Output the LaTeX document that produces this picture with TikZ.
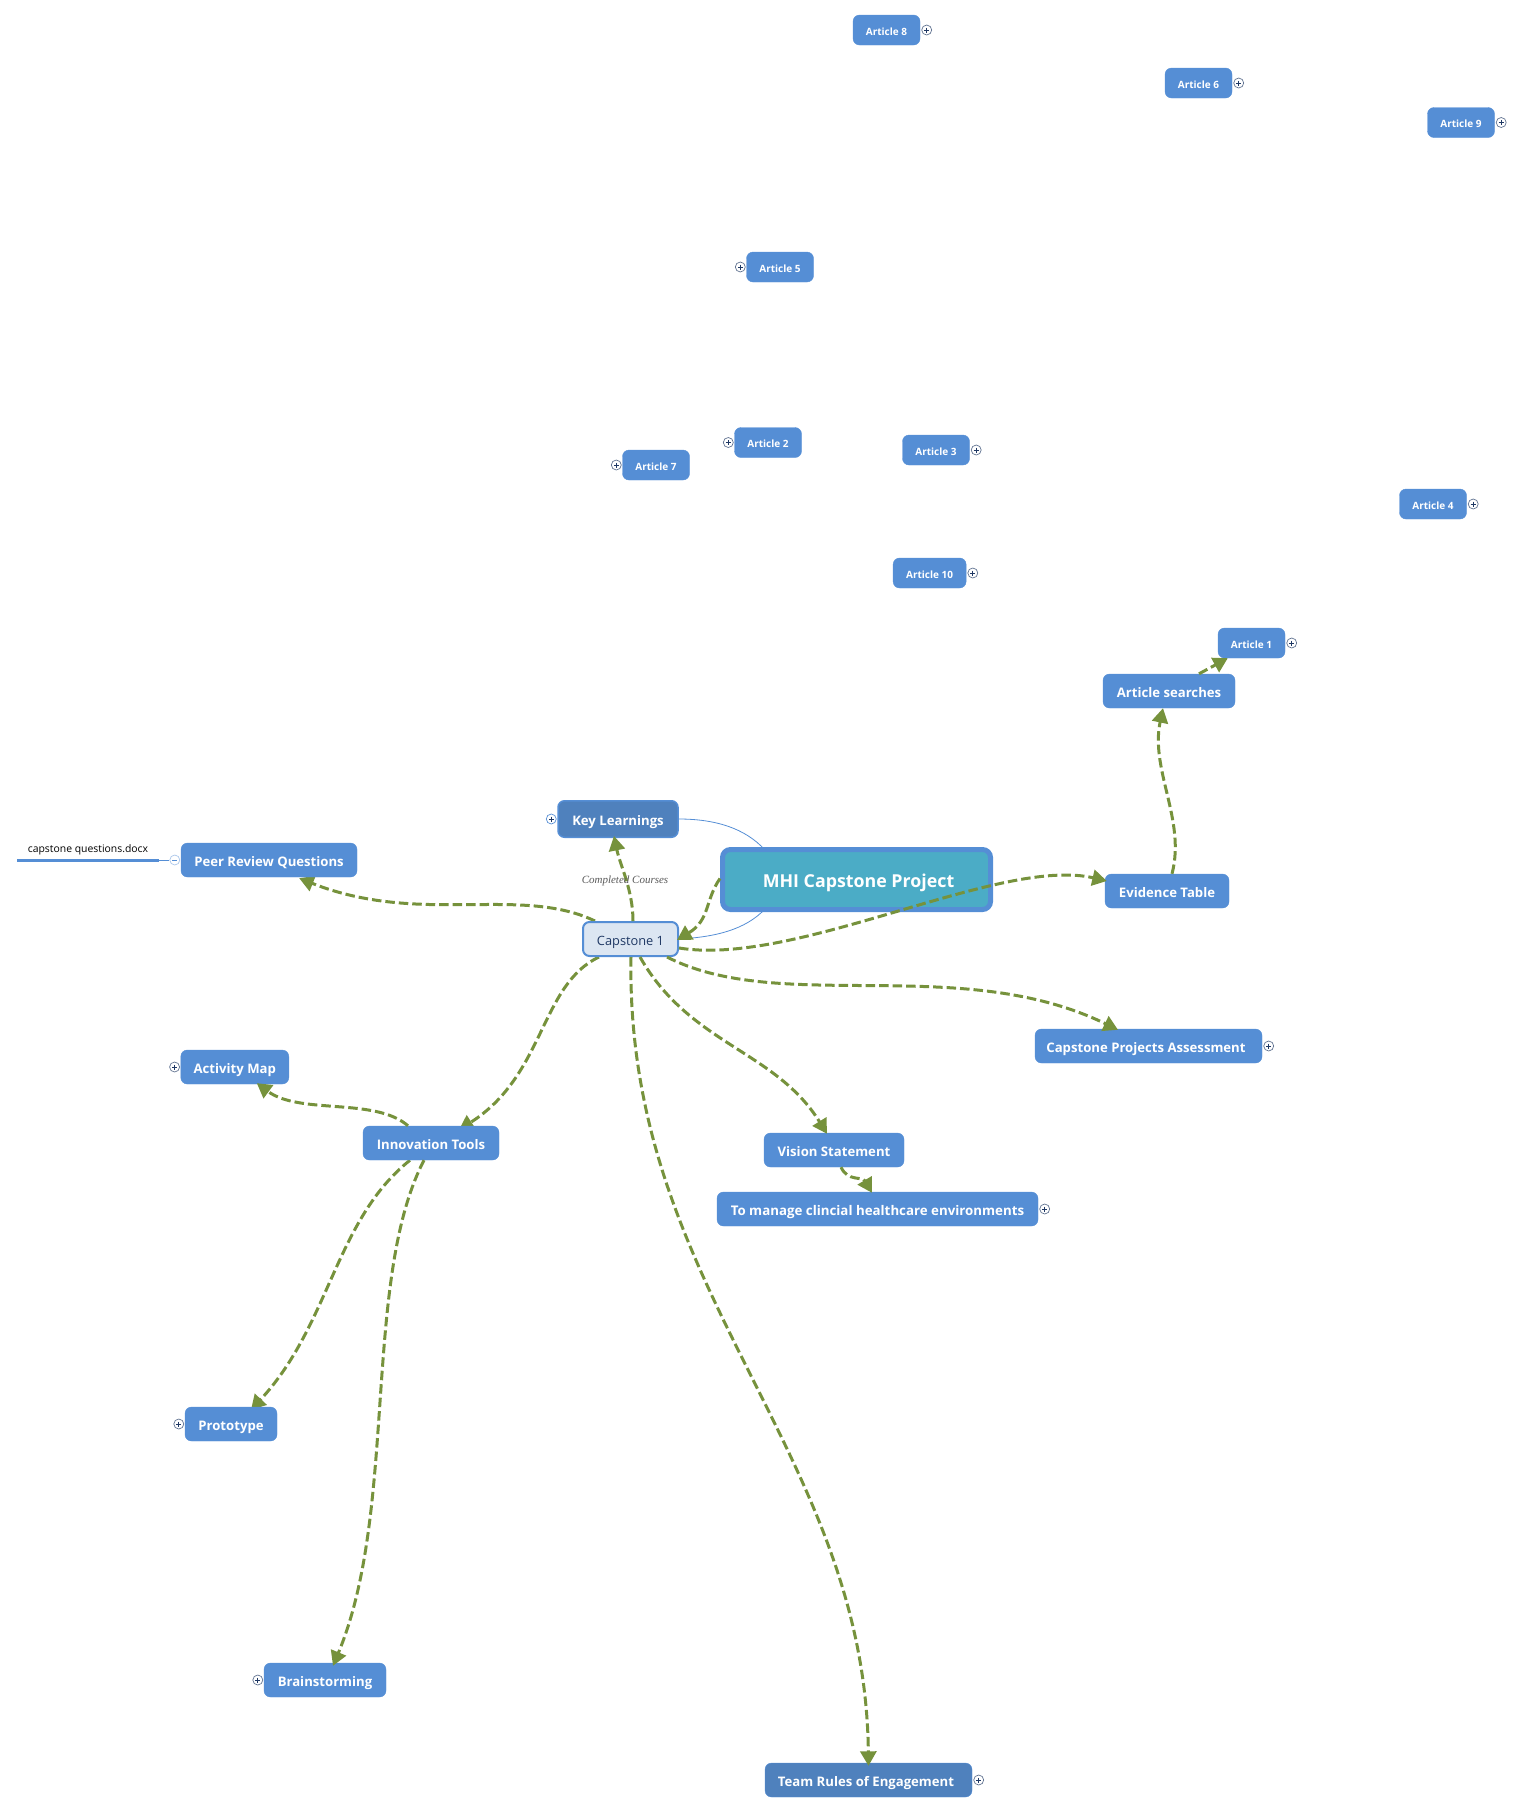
\documentclass[tikz,border=0pt]{standalone}
\usepackage{fontspec}
\setmainfont{Open Sans}
\newfontfamily\labelserif{Liberation Serif}
\usetikzlibrary{arrows.meta,calc,backgrounds}
\definecolor{topicblue}{HTML}{558ED5}
\definecolor{darkblue}{HTML}{4F81BD}
\definecolor{teal}{HTML}{4BACC6}
\definecolor{pale}{HTML}{DCE6F2}
\definecolor{olive}{HTML}{76923C}
\definecolor{ink}{HTML}{1F3864}
\tikzset{
  base/.style={draw=topicblue,fill=topicblue,rounded corners=6.5pt,inner sep=0pt,align=center,text=white,text depth=0pt,text height=12.4pt,font=\fontsize{13.15}{15}\selectfont\bfseries},
  article/.style={base,minimum width=67pt,minimum height=30pt,text height=10.6pt,font=\fontsize{10}{12}\selectfont\bfseries},
  topicbox/.style={base,minimum height=34pt},
  darktopic/.style={base,fill=darkblue,minimum height=34pt},
  expander/.style={circle,draw=ink!70,fill=white,line width=0.7pt,minimum size=10pt,inner sep=0pt,
    path picture={\draw[ink,line width=0.9pt] ($(path picture bounding box.center)+(-2.5,0)$) -- ($(path picture bounding box.center)+(2.5,0)$)
      ($(path picture bounding box.center)+(0,-2.5)$) -- ($(path picture bounding box.center)+(0,2.5)$);}},
  collapser/.style={circle,draw=topicblue!50,fill=white,line width=0.7pt,minimum size=10pt,inner sep=0pt,
    path picture={\draw[topicblue,line width=0.9pt] ($(path picture bounding box.center)+(-2.5,0)$) -- ($(path picture bounding box.center)+(2.5,0)$);}},
  rel/.style={olive,line width=3pt,dash pattern=on 9.5pt off 4pt,-{Triangle[length=14.5pt,width=16pt]}},
  thin link/.style={topicblue,line width=0.8pt},
}
\begin{document}
\begin{tikzpicture}[x=1pt,y=-1pt]
\useasboundingbox (0,0) rectangle (1520,1813);
% articles
\node[article] (a8) at (886.5,30) {Article 8};
\node[article] (a6) at (1198.5,83) {Article 6};
\node[article] (a9) at (1461,122.5) {Article 9};
\node[article] (a5) at (780,267) {Article 5};
\node[article] (a2) at (768,442.5) {Article 2};
\node[article] (a7) at (656,465) {Article 7};
\node[article] (a3) at (936,450) {Article 3};
\node[article] (a4) at (1433,504) {Article 4};
\node[article,minimum width=73pt] (a10) at (929.6,573) {Article 10};
\node[article] (a1) at (1251.5,643) {Article 1};
% topics
\node[topicbox,minimum width=132pt] (search) at (1169,691) {Article searches};
\node[topicbox,minimum width=124pt] (evid) at (1167,891) {Evidence Table};
\node[topicbox,minimum width=227pt] (assess) at (1148.5,1046) {Capstone Projects Assessment\hspace*{5pt}};
\node[topicbox,minimum width=176pt] (peer) at (269,860) {Peer Review Questions};
\node[topicbox,minimum width=108pt] (map) at (234.8,1067) {Activity Map};
\node[topicbox,minimum width=136pt] (innov) at (431,1143) {Innovation Tools};
\node[topicbox,minimum width=140pt] (vision) at (834,1150) {Vision Statement};
\node[topicbox,minimum width=321pt,font=\fontsize{13.3}{15}\selectfont\bfseries] (manage) at (877.5,1209) {To manage clincial healthcare environments};
\node[topicbox,minimum width=92pt] (proto) at (231,1424) {Prototype};
\node[topicbox,minimum width=122pt] (brain) at (325,1680) {Brainstorming};
\node[darktopic,minimum width=207pt] (rules) at (868.5,1780) {Team Rules of Engagement\hspace*{5pt}};
\node[darktopic,draw=topicblue,line width=1.5pt,minimum width=120pt,minimum height=36.5pt] (key) at (618,819) {Key Learnings};
\node[base,draw=topicblue,fill=teal,line width=5pt,rounded corners=8pt,minimum width=268pt,minimum height=60pt,text height=15.2pt,font=\fontsize{17.8}{22}\selectfont\bfseries] (mhi) at (856.5,879.5) {\hspace*{4pt}MHI Capstone Project};
\node[base,draw=topicblue,fill=pale,line width=2pt,text=ink,minimum width=95pt,minimum height=34pt,text height=12pt,font=\fontsize{12.8}{15}\selectfont] (cap) at (630.5,939) {Capstone 1};
% links that pass behind the topics
\begin{scope}[on background layer]
\draw[thin link] (key.east) .. controls (715,819) and (745,828) .. ($(mhi.north west)+(45,3)$);
\draw[thin link] (cap.east) .. controls (715,937) and (745,930) .. ($(mhi.south west)+(45,-3)$);
\draw[rel] ($(cap.north west)+(13,0)$) .. controls (520,885) and (420,926) .. ($(peer.south east)+(-58,1)$);
\draw[rel] ($(cap.south west)+(17,0)$) .. controls (540,985) and (545,1075) .. ($(innov.north)+(28,4)$);
\draw[rel] ($(innov.south)+(-21,0)$) .. controls (335,1220) and (330,1325) .. ($(proto.north)+(20,3)$);
\end{scope}
% expanders
\foreach \n in {a8,a6,a9,a3,a4,a10,a1,assess,manage,rules}{\node[expander] at ($(\n.east)+(6.5,0)$) {};}
\foreach \n in {a5,a2,a7,map,proto,brain}{\node[expander] at ($(\n.west)+(-6,0)$) {};}
\node[expander,draw=topicblue] at ($(key.west)+(-6,0)$) {};
\node[collapser] (qm) at ($(peer.west)+(-6,0)$) {};
% attachment
\coordinate (ql) at (17,860);
\coordinate (qr) at (159,860);
\node[inner sep=0pt,font=\fontsize{10.4}{13}\selectfont,text=black] (qt) at (88,850) {capstone questions.docx};
\draw[topicblue,line width=3pt] (ql) -- (qr);
\draw[topicblue,line width=1pt] (qr) -- (qm.west);
% relationships
\draw[rel] ($(mhi.west)+(0,-1)$) .. controls (705,900) and (710,920) .. ($(cap.east)+(-2,1)$);
\draw[rel] ($(cap.north)+(2.5,0)$) .. controls (633,890) and (620,865) .. ($(key.south)+(-4,-2)$);
\draw[rel] ($(cap.east)+(0,9)$) .. controls (797,967) and (1000,856) .. ($(evid.west)+(2,-10)$);
\draw[rel] ($(evid.north)+(5,0)$) .. controls (1186,820) and (1150,770) .. ($(search.south)+(-6,0)$);
\draw[rel] ($(search.north)+(30,0)$) -- ($(a1.south west)+(10,0)$);
\draw[rel] ($(cap.south east)+(-12,0)$) .. controls (780,1015) and (960,953) .. ($(assess.north)+(-30.5,1)$);
\draw[rel] ($(cap.south)+(9.5,0)$) .. controls (690,1045) and (775,1050) .. ($(vision.north)+(-7,1)$);
\draw[rel] ($(vision.south)+(7,0)$) .. controls (848,1182) and (862,1176) .. ($(manage.north)+(-5.5,1)$);
\draw[rel] ($(cap.south)+(0.5,0)$) .. controls (625,1290) and (865,1450) .. ($(rules.north)+(0,3)$);
\draw[rel] ($(innov.north)+(-23,0)$) .. controls (375,1097) and (300,1115) .. ($(map.south)+(22,-1)$);
\draw[rel] ($(innov.south)+(-7,0)$) .. controls (362,1280) and (398,1510) .. ($(brain.north)+(8,3)$);
% relationship label
\node[inner sep=0pt,text=black!65,font=\labelserif\fontsize{11}{12}\selectfont\itshape] (cc) at (625,881) {Completed Courses};
\end{tikzpicture}
\end{document}
